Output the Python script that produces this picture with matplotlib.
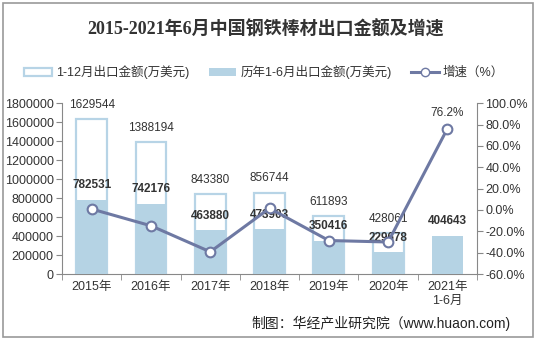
import numpy as np
import matplotlib
matplotlib.use("Agg")
import matplotlib.pyplot as plt
from matplotlib.patches import Patch, Rectangle
from matplotlib.lines import Line2D
from matplotlib.ticker import FuncFormatter, MultipleLocator

plt.rcParams["font.family"] = ["Liberation Sans", "Noto Sans CJK SC"]

# ================================
# DATA
# ================================
years = ["2015年", "2016年", "2017年", "2018年", "2019年", "2020年", "2021年\n1-6月"]
full_year = [1629544, 1388194, 843380, 856744, 611893, 428061, np.nan]
half_year = [782531, 742176, 463880, 473903, 350416, 229678, 404643]
growth = [0.9, -14.8, -39.2, 1.6, -28.6, -30.0, 76.2]

edge_blue = "#B7D4E6"
fill_blue = "#B5D3E4"
line_col = "#6E79A3"
grey = "#888888"

# ================================
# FIGURE
# ================================
fig = plt.figure(figsize=(5.36, 3.39), dpi=100)
ax = fig.add_axes([0.1157, 0.1917, 0.7743, 0.5036])
x = np.arange(len(years))
w = 0.52

ax.bar(x, full_year, width=w, color="white", edgecolor=edge_blue, linewidth=1.6, zorder=2)
ax.bar(x, half_year, width=w, color=fill_blue, edgecolor="none", zorder=3)

ax.set_xlim(-0.5, len(years) - 0.5)
ax.set_ylim(0, 1800000)
ax.yaxis.set_major_locator(MultipleLocator(200000))
ax.yaxis.set_major_formatter(FuncFormatter(lambda v, p: f"{int(v)}"))
ax.set_xticks(x)
ax.set_xticklabels(years, fontsize=9, color="#333333")
ax.set_xticks(np.arange(-0.5, len(years), 1), minor=True)
ax.tick_params(axis="x", which="major", length=0, pad=5)
ax.tick_params(axis="x", which="minor", length=4, color=grey)
ax.tick_params(axis="y", labelsize=9, length=4, color=grey, labelcolor="#333333", pad=2)
ax.spines["top"].set_visible(False)
ax.spines["right"].set_visible(False)
for s in ["left", "bottom"]:
    ax.spines[s].set_color(grey)

# bar labels
for i in range(len(years)):
    if not np.isnan(full_year[i]):
        ax.annotate(f"{int(full_year[i])}", (x[i], full_year[i]), xytext=(0, 6),
                    textcoords="offset points", ha="center", va="bottom",
                    fontsize=8.5, color="#333333", zorder=5)
    ax.annotate(f"{half_year[i]}", (x[i], half_year[i]), xytext=(0, 6),
                textcoords="offset points", ha="center", va="bottom",
                fontsize=8.5, fontweight="bold", color="#333333", zorder=5)

# growth line
ax2 = ax.twinx()
ax2.plot(x, growth, color=line_col, linewidth=2.2, marker="o", markersize=7,
         markerfacecolor="white", markeredgecolor=line_col, markeredgewidth=1.5, zorder=4)
ax2.set_ylim(-60, 100)
ax2.yaxis.set_major_locator(MultipleLocator(20))
ax2.yaxis.set_major_formatter(FuncFormatter(lambda v, p: f"{v:.1f}%"))
ax2.tick_params(axis="y", labelsize=9, length=4, color=grey, labelcolor="#333333", pad=2)
for s in ["top", "left", "bottom"]:
    ax2.spines[s].set_visible(False)
ax2.spines["right"].set_color(grey)
ax2.annotate(f"{growth[-1]:.1f}%", (x[-1], growth[-1]), xytext=(0, 7),
             textcoords="offset points", ha="center", va="bottom",
             fontsize=8.5, color="#333333")

# title
fig.text(0.495, 0.912, "2015-2021年6月中国钢铁棒材出口金额及增速", ha="center", va="center",
         fontsize=13, fontweight="bold", color="#333333",
         family=["Liberation Serif", "Noto Sans CJK SC"])

# legend
handles = [
    Patch(facecolor="white", edgecolor=edge_blue, linewidth=1.6),
    Patch(facecolor=fill_blue, edgecolor="none"),
    Line2D([0], [0], color=line_col, linewidth=2.2, marker="o", markersize=6,
           markerfacecolor="white", markeredgecolor=line_col),
]
labels = ["1-12月出口金额(万美元)", "历年1-6月出口金额(万美元)", "增速（%）"]
fig.legend(handles, labels, loc="center", bbox_to_anchor=(0.493, 0.787), ncol=3,
           frameon=False, fontsize=9, handlelength=2.2, handleheight=0.6,
           columnspacing=1.6, handletextpad=0.3, labelcolor="#333333")

# source
fig.text(0.953, 0.047, "制图：华经产业研究院（www.huaon.com)", ha="right", va="center",
         fontsize=10, color="#222222")

# outer border
fig.patches.append(Rectangle((0.006, 0.006), 0.988, 0.985, transform=fig.transFigure,
                             fill=False, edgecolor="#999999", linewidth=1.2))

fig.savefig("out.png", dpi=100)
